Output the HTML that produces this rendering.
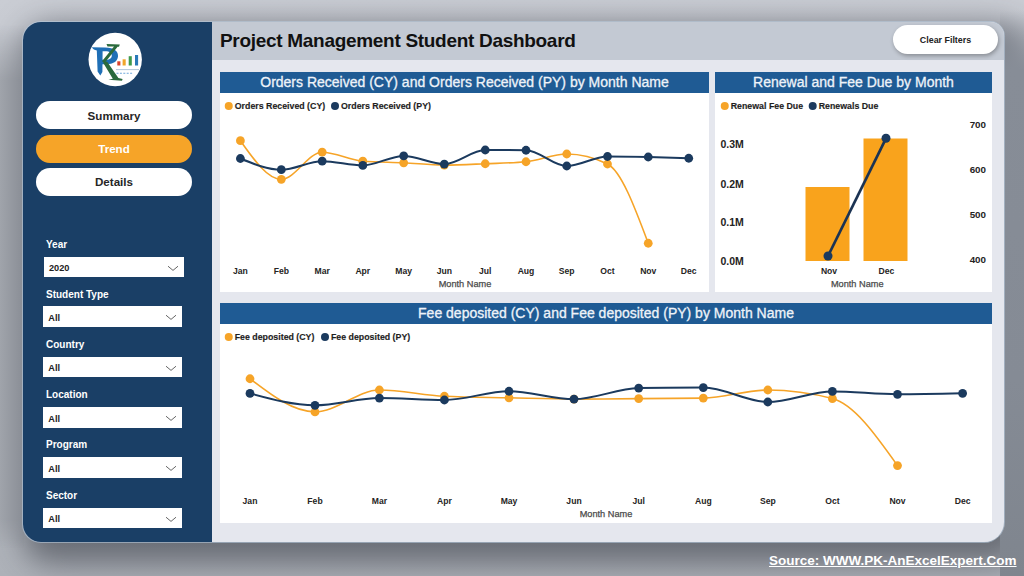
<!DOCTYPE html>
<html><head><meta charset="utf-8"><style>
*{margin:0;padding:0;box-sizing:border-box}
html,body{width:1024px;height:576px;overflow:hidden}
body{position:relative;font-family:"Liberation Sans",sans-serif;background:linear-gradient(180deg,#cacdd4,#aeb2b9)}
.shadow{position:absolute;left:23px;top:22px;width:981px;height:520px;border-radius:18px 14px 20px 18px;box-shadow:10px 12px 30px 10px rgba(35,40,50,0.5)}
.main{position:absolute;left:23px;top:22px;width:981px;height:520px;border-radius:18px 14px 20px 18px;background:#e5e7ee;overflow:hidden}
.side{position:absolute;left:0;top:0;width:188.5px;height:520px;background:#1a3f66}
.hdr{position:absolute;left:189px;top:0;right:0;height:38px;background:#c3c9d3}
.title{position:absolute;left:220px;top:29.5px;letter-spacing:-0.3px;font-size:19px;font-weight:bold;color:#111;white-space:nowrap;line-height:22px}
.panel{position:absolute;background:#fff}
.band{position:absolute;background:#1f5b94;color:#eef3f9;text-align:center;font-size:14px;line-height:21px;white-space:nowrap;-webkit-text-stroke:0.3px #eef3f9}
.btn{position:absolute;left:36px;width:156px;height:28px;border-radius:14px;background:#fff;color:#262626;font-weight:bold;font-size:11.6px;text-align:center;line-height:27.5px}
.flab{position:absolute;left:46px;color:#fff;font-weight:bold;font-size:10px;line-height:12px;white-space:nowrap}
.dd{position:absolute;left:44px;width:140px;height:20.5px;background:#fff;}
.dd span{position:absolute;left:5px;top:5.5px;font-size:9.2px;font-weight:bold;color:#222;line-height:12px}
.chev{position:absolute;right:5px;top:7px}
.clear{position:absolute;left:893px;top:25px;width:105px;height:29px;border-radius:14.5px;background:#fff;box-shadow:1px 2px 4px rgba(0,0,0,0.3);font-size:8.9px;font-weight:bold;color:#222;text-align:center;line-height:30px}
.src{position:absolute;left:769px;top:552px;font-size:13.5px;font-weight:bold;color:#fff;text-decoration:underline;white-space:nowrap;line-height:18px}
svg.charts{position:absolute;left:0;top:0}
svg text{font-family:"Liberation Sans",sans-serif}
</style></head><body>
<div class="shadow"></div>
<div style="position:absolute;left:1000px;top:0;width:24px;height:576px;background:linear-gradient(180deg,rgba(134,140,150,0) 10px,#878d97 70px,#858b95 380px,#7f858e 576px)"></div>
<div style="position:absolute;left:0;top:0;width:24px;height:576px;background:linear-gradient(90deg,#a0a4ab,#898d95);-webkit-mask-image:linear-gradient(180deg,transparent 25px,#000 80px,#000 520px,transparent 548px)"></div>

<div class="main" style="box-shadow:0 0 0 1px rgba(185,205,225,0.55)">
<div class="side"></div>
<div class="hdr"></div>
</div>
<div class="title">Project Management Student Dashboard</div>
<div class="clear">Clear Filters</div>
<div class="panel" style="left:220px;top:72px;width:489px;height:220px"></div>
<div class="panel" style="left:715px;top:72px;width:277px;height:220px"></div>
<div class="panel" style="left:220px;top:303px;width:772px;height:220px"></div>
<div class="band" style="left:220px;top:72px;width:489px;height:21px">Orders Received (CY) and Orders Received (PY) by Month Name</div>
<div class="band" style="left:715px;top:72px;width:277px;height:21px">Renewal and Fee Due by Month</div>
<div class="band" style="left:220px;top:303px;width:772px;height:21px">Fee deposited (CY) and Fee deposited (PY) by Month Name</div>
<svg style="position:absolute;left:85px;top:28px" width="60" height="60" viewBox="0 0 60 60">
<circle cx="30.2" cy="31.5" r="26.7" fill="#fff"/>
<path d="M6.8,19.2 L20,19.4 C29.5,19.4 33.6,23.5 33,28.6 C32.4,34 27.5,36.6 20,36.2 L17.2,36 L17.4,31.6 L20.5,31.8 C24.8,32 26.8,30.2 26.8,27.6 C26.8,24.8 24.6,23.2 20.5,23.2 L17.6,23.2 L17.4,44 L15.3,47.5 L12.6,43.6 L11.8,22.6 C9.6,22 8,21 6.8,19.2 Z" fill="#1f6fb6"/>
<path d="M21.5,16 L34.8,16.4 L34,18.8 L32.6,18.8 L19.6,35 L17,33.2 L29,18.6 L22.5,18.4 Z" fill="#2b6a3c"/>
<path d="M18,34.4 L22,33.4 L33.4,50 L37.6,51 L37,52.8 L23.4,51.8 L27.8,50.8 Z" fill="#2b6a3c"/>
<rect x="32.3" y="33.3" width="3.1" height="4.2" fill="#d9442e"/>
<rect x="37.6" y="31.3" width="3.1" height="6.2" fill="#f0a52a"/>
<rect x="43.7" y="28.2" width="3.1" height="9.3" fill="#3f9a4c"/>
<rect x="50" y="27" width="3.1" height="10.5" fill="#2a79b8"/>
<rect x="31" y="41.2" width="23" height="0.9" fill="#a9bfd4"/>
<path d="M31.5,45.3 h2 m1.4,0 h2 m1.4,0 h2 m1.4,0 h2 m1.4,0 h2" stroke="#6fa8dc" stroke-width="1.1"/>
</svg>
<div class="btn" style="top:101px;line-height:30.5px">Summary</div>
<div class="btn" style="top:134.5px;background:#f6a428;color:#fff">Trend</div>
<div class="btn" style="top:167.5px">Details</div>
<div class="flab" style="top:239.0px">Year</div><div class="dd" style="top:256.5px"><span>2020</span><svg class="chev" width="12" height="8" viewBox="0 0 12 8"><path d="M1,2.2 L6,6.4 L11,2.2" fill="none" stroke="#666" stroke-width="1"/></svg></div><div class="flab" style="top:288.5px">Student Type</div><div class="dd" style="left:43.3px;width:139.2px;top:306.0px"><span>All</span><svg class="chev" width="12" height="8" viewBox="0 0 12 8"><path d="M1,2.2 L6,6.4 L11,2.2" fill="none" stroke="#666" stroke-width="1"/></svg></div><div class="flab" style="top:339.0px">Country</div><div class="dd" style="left:43.3px;width:139.2px;top:356.5px"><span>All</span><svg class="chev" width="12" height="8" viewBox="0 0 12 8"><path d="M1,2.2 L6,6.4 L11,2.2" fill="none" stroke="#666" stroke-width="1"/></svg></div><div class="flab" style="top:388.9px">Location</div><div class="dd" style="left:43.3px;width:139.2px;top:407.0px"><span>All</span><svg class="chev" width="12" height="8" viewBox="0 0 12 8"><path d="M1,2.2 L6,6.4 L11,2.2" fill="none" stroke="#666" stroke-width="1"/></svg></div><div class="flab" style="top:439.4px">Program</div><div class="dd" style="left:43.3px;width:139.2px;top:457.2px"><span>All</span><svg class="chev" width="12" height="8" viewBox="0 0 12 8"><path d="M1,2.2 L6,6.4 L11,2.2" fill="none" stroke="#666" stroke-width="1"/></svg></div><div class="flab" style="top:489.5px">Sector</div><div class="dd" style="left:43.3px;width:139.2px;top:507.7px"><span>All</span><svg class="chev" width="12" height="8" viewBox="0 0 12 8"><path d="M1,2.2 L6,6.4 L11,2.2" fill="none" stroke="#666" stroke-width="1"/></svg></div>
<svg class="charts" width="1024" height="576" viewBox="0 0 1024 576">
<path d="M240.40,140.70 C254.03,160.00 267.67,179.30 281.30,179.30 C294.93,179.30 308.57,152.20 322.20,152.20 C335.73,152.20 349.27,160.14 362.80,161.20 C376.43,162.27 390.07,162.15 403.70,162.80 C417.23,163.45 430.77,165.10 444.30,165.10 C457.95,165.10 471.60,164.31 485.25,163.75 C498.83,163.19 512.42,163.08 526.00,161.75 C539.58,160.42 553.17,154.00 566.75,154.00 C580.33,154.00 593.92,157.33 607.50,164.00 C621.08,170.67 634.67,206.96 648.25,243.25" fill="none" stroke="#f6a428" stroke-width="1.6" stroke-linecap="round"/><circle cx="240.40" cy="140.70" r="4.4" fill="#f6a428"/><circle cx="281.30" cy="179.30" r="4.4" fill="#f6a428"/><circle cx="322.20" cy="152.20" r="4.4" fill="#f6a428"/><circle cx="362.80" cy="161.20" r="4.4" fill="#f6a428"/><circle cx="403.70" cy="162.80" r="4.4" fill="#f6a428"/><circle cx="444.30" cy="165.10" r="4.4" fill="#f6a428"/><circle cx="485.25" cy="163.75" r="4.4" fill="#f6a428"/><circle cx="526.00" cy="161.75" r="4.4" fill="#f6a428"/><circle cx="566.75" cy="154.00" r="4.4" fill="#f6a428"/><circle cx="607.50" cy="164.00" r="4.4" fill="#f6a428"/><circle cx="648.25" cy="243.25" r="4.4" fill="#f6a428"/>
<path d="M240.40,158.50 C254.03,164.10 267.67,169.70 281.30,169.70 C294.93,169.70 308.57,161.20 322.20,161.20 C335.73,161.20 349.27,165.40 362.80,165.40 C376.43,165.40 390.07,155.90 403.70,155.90 C417.23,155.90 430.77,164.10 444.30,164.10 C457.95,164.10 471.60,150.00 485.25,150.00 C498.83,150.00 512.42,150.08 526.00,150.25 C539.58,150.42 553.17,166.00 566.75,166.00 C580.33,166.00 593.92,156.50 607.50,156.50 C621.08,156.50 634.67,156.71 648.25,157.00 C661.75,157.29 675.25,157.77 688.75,158.25" fill="none" stroke="#1b3a5e" stroke-width="2" stroke-linecap="round"/><circle cx="240.40" cy="158.50" r="4.4" fill="#1b3a5e"/><circle cx="281.30" cy="169.70" r="4.4" fill="#1b3a5e"/><circle cx="322.20" cy="161.20" r="4.4" fill="#1b3a5e"/><circle cx="362.80" cy="165.40" r="4.4" fill="#1b3a5e"/><circle cx="403.70" cy="155.90" r="4.4" fill="#1b3a5e"/><circle cx="444.30" cy="164.10" r="4.4" fill="#1b3a5e"/><circle cx="485.25" cy="150.00" r="4.4" fill="#1b3a5e"/><circle cx="526.00" cy="150.25" r="4.4" fill="#1b3a5e"/><circle cx="566.75" cy="166.00" r="4.4" fill="#1b3a5e"/><circle cx="607.50" cy="156.50" r="4.4" fill="#1b3a5e"/><circle cx="648.25" cy="157.00" r="4.4" fill="#1b3a5e"/><circle cx="688.75" cy="158.25" r="4.4" fill="#1b3a5e"/>
<path d="M250.00,378.75 C271.67,395.32 293.33,411.90 315.00,411.90 C336.47,411.90 357.93,390.00 379.40,390.00 C401.07,390.00 422.73,395.21 444.40,396.25 C465.93,397.28 487.47,397.33 509.00,397.80 C530.67,398.28 552.33,399.10 574.00,399.10 C595.57,399.10 617.13,398.77 638.70,398.60 C660.23,398.43 681.77,398.43 703.30,398.10 C724.80,397.77 746.30,390.00 767.80,390.00 C789.33,390.00 810.87,392.87 832.40,398.60 C854.10,404.38 875.80,434.99 897.50,465.60" fill="none" stroke="#f6a428" stroke-width="1.6" stroke-linecap="round"/><circle cx="250.00" cy="378.75" r="4.4" fill="#f6a428"/><circle cx="315.00" cy="411.90" r="4.4" fill="#f6a428"/><circle cx="379.40" cy="390.00" r="4.4" fill="#f6a428"/><circle cx="444.40" cy="396.25" r="4.4" fill="#f6a428"/><circle cx="509.00" cy="397.80" r="4.4" fill="#f6a428"/><circle cx="574.00" cy="399.10" r="4.4" fill="#f6a428"/><circle cx="638.70" cy="398.60" r="4.4" fill="#f6a428"/><circle cx="703.30" cy="398.10" r="4.4" fill="#f6a428"/><circle cx="767.80" cy="390.00" r="4.4" fill="#f6a428"/><circle cx="832.40" cy="398.60" r="4.4" fill="#f6a428"/><circle cx="897.50" cy="465.60" r="4.4" fill="#f6a428"/>
<path d="M250.00,393.40 C271.67,399.35 293.33,405.30 315.00,405.30 C336.47,405.30 357.93,398.10 379.40,398.10 C401.07,398.10 422.73,400.00 444.40,400.00 C465.93,400.00 487.47,391.25 509.00,391.25 C530.67,391.25 552.33,399.10 574.00,399.10 C595.57,399.10 617.13,388.43 638.70,388.10 C660.23,387.77 681.77,387.60 703.30,387.60 C724.80,387.60 746.30,402.00 767.80,402.00 C789.33,402.00 810.87,391.40 832.40,391.40 C854.10,391.40 875.80,394.30 897.50,394.30 C919.20,394.30 940.90,393.80 962.60,393.30" fill="none" stroke="#1b3a5e" stroke-width="2" stroke-linecap="round"/><circle cx="250.00" cy="393.40" r="4.4" fill="#1b3a5e"/><circle cx="315.00" cy="405.30" r="4.4" fill="#1b3a5e"/><circle cx="379.40" cy="398.10" r="4.4" fill="#1b3a5e"/><circle cx="444.40" cy="400.00" r="4.4" fill="#1b3a5e"/><circle cx="509.00" cy="391.25" r="4.4" fill="#1b3a5e"/><circle cx="574.00" cy="399.10" r="4.4" fill="#1b3a5e"/><circle cx="638.70" cy="388.10" r="4.4" fill="#1b3a5e"/><circle cx="703.30" cy="387.60" r="4.4" fill="#1b3a5e"/><circle cx="767.80" cy="402.00" r="4.4" fill="#1b3a5e"/><circle cx="832.40" cy="391.40" r="4.4" fill="#1b3a5e"/><circle cx="897.50" cy="394.30" r="4.4" fill="#1b3a5e"/><circle cx="962.60" cy="393.30" r="4.4" fill="#1b3a5e"/>
<rect x="805.5" y="187" width="44" height="74" fill="#f9a31c"/>
<rect x="863.5" y="138.5" width="44" height="122.5" fill="#f9a31c"/>
<path d="M828,256 L886,138.3" stroke="#1b3353" stroke-width="2.7" fill="none"/>
<circle cx="828" cy="256" r="4.5" fill="#1b3a5e"/><circle cx="886" cy="138.3" r="4.5" fill="#1b3a5e"/>
<text x="240.4" y="273.5" font-size="8.6" font-weight="bold" fill="#252423" text-anchor="middle" >Jan</text>
<text x="281.3" y="273.5" font-size="8.6" font-weight="bold" fill="#252423" text-anchor="middle" >Feb</text>
<text x="322.2" y="273.5" font-size="8.6" font-weight="bold" fill="#252423" text-anchor="middle" >Mar</text>
<text x="362.8" y="273.5" font-size="8.6" font-weight="bold" fill="#252423" text-anchor="middle" >Apr</text>
<text x="403.7" y="273.5" font-size="8.6" font-weight="bold" fill="#252423" text-anchor="middle" >May</text>
<text x="444.3" y="273.5" font-size="8.6" font-weight="bold" fill="#252423" text-anchor="middle" >Jun</text>
<text x="485.25" y="273.5" font-size="8.6" font-weight="bold" fill="#252423" text-anchor="middle" >Jul</text>
<text x="526" y="273.5" font-size="8.6" font-weight="bold" fill="#252423" text-anchor="middle" >Aug</text>
<text x="566.75" y="273.5" font-size="8.6" font-weight="bold" fill="#252423" text-anchor="middle" >Sep</text>
<text x="607.5" y="273.5" font-size="8.6" font-weight="bold" fill="#252423" text-anchor="middle" >Oct</text>
<text x="648.25" y="273.5" font-size="8.6" font-weight="bold" fill="#252423" text-anchor="middle" >Nov</text>
<text x="688.75" y="273.5" font-size="8.6" font-weight="bold" fill="#252423" text-anchor="middle" >Dec</text>
<text x="465" y="286.5" font-size="9.2" font-weight="normal" fill="#4a4a4a" text-anchor="middle" stroke="#4a4a4a" stroke-width="0.25">Month Name</text>
<text x="250" y="504.2" font-size="8.6" font-weight="bold" fill="#252423" text-anchor="middle" >Jan</text>
<text x="315" y="504.2" font-size="8.6" font-weight="bold" fill="#252423" text-anchor="middle" >Feb</text>
<text x="379.4" y="504.2" font-size="8.6" font-weight="bold" fill="#252423" text-anchor="middle" >Mar</text>
<text x="444.4" y="504.2" font-size="8.6" font-weight="bold" fill="#252423" text-anchor="middle" >Apr</text>
<text x="509" y="504.2" font-size="8.6" font-weight="bold" fill="#252423" text-anchor="middle" >May</text>
<text x="574" y="504.2" font-size="8.6" font-weight="bold" fill="#252423" text-anchor="middle" >Jun</text>
<text x="638.7" y="504.2" font-size="8.6" font-weight="bold" fill="#252423" text-anchor="middle" >Jul</text>
<text x="703.3" y="504.2" font-size="8.6" font-weight="bold" fill="#252423" text-anchor="middle" >Aug</text>
<text x="767.8" y="504.2" font-size="8.6" font-weight="bold" fill="#252423" text-anchor="middle" >Sep</text>
<text x="832.4" y="504.2" font-size="8.6" font-weight="bold" fill="#252423" text-anchor="middle" >Oct</text>
<text x="897.5" y="504.2" font-size="8.6" font-weight="bold" fill="#252423" text-anchor="middle" >Nov</text>
<text x="962.6" y="504.2" font-size="8.6" font-weight="bold" fill="#252423" text-anchor="middle" >Dec</text>
<text x="606" y="517.2" font-size="9.2" font-weight="normal" fill="#4a4a4a" text-anchor="middle" stroke="#4a4a4a" stroke-width="0.25">Month Name</text>
<text x="720.5" y="148.4" font-size="10.5" font-weight="bold" fill="#252423" text-anchor="start" >0.3M</text>
<text x="720.5" y="187.55" font-size="10.5" font-weight="bold" fill="#252423" text-anchor="start" >0.2M</text>
<text x="720.5" y="226.3" font-size="10.5" font-weight="bold" fill="#252423" text-anchor="start" >0.1M</text>
<text x="720.5" y="265.05" font-size="10.5" font-weight="bold" fill="#252423" text-anchor="start" >0.0M</text>
<text x="986" y="128.3" font-size="9.8" font-weight="bold" fill="#252423" text-anchor="end" >700</text>
<text x="986" y="173.3" font-size="9.8" font-weight="bold" fill="#252423" text-anchor="end" >600</text>
<text x="986" y="217.9" font-size="9.8" font-weight="bold" fill="#252423" text-anchor="end" >500</text>
<text x="986" y="262.9" font-size="9.8" font-weight="bold" fill="#252423" text-anchor="end" >400</text>
<text x="829" y="273.5" font-size="8.6" font-weight="bold" fill="#252423" text-anchor="middle" >Nov</text>
<text x="886.4" y="273.5" font-size="8.6" font-weight="bold" fill="#252423" text-anchor="middle" >Dec</text>
<text x="857.25" y="287" font-size="9.2" font-weight="normal" fill="#4a4a4a" text-anchor="middle" stroke="#4a4a4a" stroke-width="0.25">Month Name</text>
<circle cx="228.75" cy="106" r="4" fill="#f6a428"/><text x="234.75" y="109.2" font-size="8.8" font-weight="bold" fill="#1e1e1e" text-anchor="start" stroke="#1e1e1e" stroke-width="0.15">Orders Received (CY)</text><circle cx="335" cy="106" r="4" fill="#1b3a5e"/><text x="341" y="109.2" font-size="8.8" font-weight="bold" fill="#1e1e1e" text-anchor="start" stroke="#1e1e1e" stroke-width="0.15">Orders Received (PY)</text>
<circle cx="724.75" cy="106" r="4" fill="#f6a428"/><text x="730.75" y="109.2" font-size="8.8" font-weight="bold" fill="#1e1e1e" text-anchor="start" stroke="#1e1e1e" stroke-width="0.15">Renewal Fee Due</text><circle cx="812.7" cy="106" r="4" fill="#1b3a5e"/><text x="818.7" y="109.2" font-size="8.8" font-weight="bold" fill="#1e1e1e" text-anchor="start" stroke="#1e1e1e" stroke-width="0.15">Renewals Due</text>
<circle cx="228.75" cy="337" r="4" fill="#f6a428"/><text x="234.75" y="340.2" font-size="8.8" font-weight="bold" fill="#1e1e1e" text-anchor="start" stroke="#1e1e1e" stroke-width="0.15">Fee deposited (CY)</text><circle cx="325" cy="337" r="4" fill="#1b3a5e"/><text x="331" y="340.2" font-size="8.8" font-weight="bold" fill="#1e1e1e" text-anchor="start" stroke="#1e1e1e" stroke-width="0.15">Fee deposited (PY)</text>
</svg>
<div class="src">Source: WWW.PK-AnExcelExpert.Com</div>
</body></html>
